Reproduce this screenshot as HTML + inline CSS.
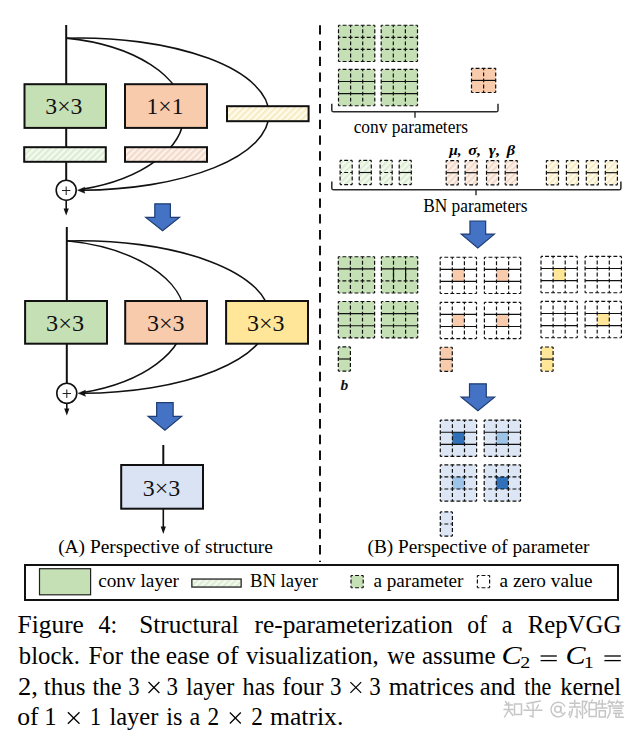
<!DOCTYPE html><html><head><meta charset="utf-8"><style>html,body{margin:0;padding:0;background:#fff;}svg{display:block;}</style></head><body>
<svg width="641" height="736" viewBox="0 0 641 736">
<defs>
<pattern id="hg" patternUnits="userSpaceOnUse" width="4.5" height="4.5" patternTransform="rotate(45)"><rect width="4.5" height="4.5" fill="#f3f9ef"/><rect x="0" y="0" width="2" height="4.5" fill="#dcecd2"/></pattern>
<pattern id="ho" patternUnits="userSpaceOnUse" width="4.5" height="4.5" patternTransform="rotate(45)"><rect width="4.5" height="4.5" fill="#fcf1ea"/><rect x="0" y="0" width="2" height="4.5" fill="#f3d9c8"/></pattern>
<pattern id="hy" patternUnits="userSpaceOnUse" width="4.5" height="4.5" patternTransform="rotate(45)"><rect width="4.5" height="4.5" fill="#fffaea"/><rect x="0" y="0" width="2" height="4.5" fill="#f7ebc4"/></pattern>
</defs>
<line x1="66.2" y1="25" x2="66.2" y2="180" stroke="#111" stroke-width="2" stroke-linecap="butt"/>
<line x1="66.2" y1="200.5" x2="66.2" y2="209" stroke="#111" stroke-width="1.6" stroke-linecap="butt"/>
<path d="M63.6,208.5 L68.8,208.5 L66.2,215.5 Z" fill="#111"/>
<path d="M66.2,38.09 A144,77.2 0 0 1 184,114 A144,78.8 0 0 1 82,189.37" fill="none" stroke="#111" stroke-width="1.6"/>
<path d="M66.2,38.2 A189,76.1 0 0 1 269,114.1 A189,76.1 0 0 1 82,190.2" fill="none" stroke="#111" stroke-width="1.6"/>
<path d="M77.6,190.2 L84.9,187.2 L83.8,190.2 L84.9,193.2 Z" fill="#111" stroke="#111" stroke-width="0.5" stroke-linejoin="round"/>
<rect x="24.5" y="84.2" width="81.5" height="43.7" fill="#c5e0b4" stroke="#111" stroke-width="2"/>
<rect x="125" y="84.2" width="82" height="43.7" fill="#f8cbad" stroke="#111" stroke-width="2"/>
<text transform="translate(46.6,114.1) scale(1.0087,0.9900) translate(-1.250,0)" x="0" y="0" font-family='"Liberation Serif", serif' font-size="23.5" font-weight="normal" font-style="normal" fill="#111">3×3</text>
<text transform="translate(148.6,114.1) scale(1.0015,0.9900) translate(-2.000,0)" x="0" y="0" font-family='"Liberation Serif", serif' font-size="23.5" font-weight="normal" font-style="normal" fill="#111">1×1</text>
<rect x="24.2" y="147.2" width="81.6" height="14.6" fill="url(#hg)" stroke="#111" stroke-width="2"/>
<rect x="125" y="147.2" width="82" height="14.6" fill="url(#ho)" stroke="#111" stroke-width="2"/>
<rect x="227" y="106.2" width="81.6" height="15" fill="url(#hy)" stroke="#111" stroke-width="2"/>
<circle cx="66.2" cy="190.2" r="10" fill="#fff" stroke="#111" stroke-width="1.6"/>
<line x1="62" y1="190.5" x2="70.4" y2="190.5" stroke="#222" stroke-width="1.05" stroke-linecap="butt"/>
<line x1="66.2" y1="186.6" x2="66.2" y2="195" stroke="#222" stroke-width="1.05" stroke-linecap="butt"/>
<polygon points="154.8,203.8 170.4,203.8 170.4,217.4 179.45,217.4 162.6,230.76 145.75,217.4 154.8,217.4" fill="#4472c4" stroke="#1f3c73" stroke-width="1.2" stroke-linejoin="miter"/>
<line x1="66.8" y1="227" x2="66.8" y2="383.2" stroke="#111" stroke-width="2" stroke-linecap="butt"/>
<line x1="66.8" y1="403.5" x2="66.8" y2="409" stroke="#111" stroke-width="1.6" stroke-linecap="butt"/>
<path d="M64.2,408.5 L69.4,408.5 L66.8,415.5 Z" fill="#111"/>
<path d="M66.8,240.78 A144,77.5 0 0 1 184.75,317 A144,79 0 0 1 82.5,392.61" fill="none" stroke="#111" stroke-width="1.6"/>
<path d="M66.8,240.96 A189,76.25 0 0 1 269.75,317 A189,76.25 0 0 1 82.5,393.25" fill="none" stroke="#111" stroke-width="1.6"/>
<path d="M78.2,393.25 L85.5,390.25 L84.4,393.25 L85.5,396.25 Z" fill="#111" stroke="#111" stroke-width="0.5" stroke-linejoin="round"/>
<rect x="25.1" y="301" width="81.9" height="42.7" fill="#c5e0b4" stroke="#111" stroke-width="2"/>
<rect x="125.2" y="301" width="81.8" height="42.7" fill="#f8cbad" stroke="#111" stroke-width="2"/>
<rect x="226.1" y="301" width="81.9" height="42.7" fill="#ffe699" stroke="#111" stroke-width="2"/>
<text transform="translate(47.4,330.9) scale(1.0348,0.9900) translate(-1.250,0)" x="0" y="0" font-family='"Liberation Serif", serif' font-size="23.5" font-weight="normal" font-style="normal" fill="#111">3×3</text>
<text transform="translate(148.4,330.9) scale(1.0203,0.9900) translate(-1.250,0)" x="0" y="0" font-family='"Liberation Serif", serif' font-size="23.5" font-weight="normal" font-style="normal" fill="#111">3×3</text>
<text transform="translate(248.4,330.9) scale(1.0203,0.9900) translate(-1.250,0)" x="0" y="0" font-family='"Liberation Serif", serif' font-size="23.5" font-weight="normal" font-style="normal" fill="#111">3×3</text>
<circle cx="66.8" cy="393.25" r="10" fill="#fff" stroke="#111" stroke-width="1.6"/>
<line x1="62.6" y1="393.5" x2="71" y2="393.5" stroke="#222" stroke-width="1.05" stroke-linecap="butt"/>
<line x1="66.8" y1="389.6" x2="66.8" y2="398" stroke="#222" stroke-width="1.05" stroke-linecap="butt"/>
<polygon points="156.65,402.6 173.15,402.6 173.15,416.4 181.65,416.4 164.9,430.16 148.15,416.4 156.65,416.4" fill="#4472c4" stroke="#1f3c73" stroke-width="1.2" stroke-linejoin="miter"/>
<line x1="163.3" y1="445" x2="163.3" y2="465" stroke="#111" stroke-width="2" stroke-linecap="butt"/>
<rect x="121.2" y="465" width="81.8" height="43.7" fill="#dae3f3" stroke="#111" stroke-width="2"/>
<text transform="translate(144.1,495.5) scale(1.0203,0.9900) translate(-1.250,0)" x="0" y="0" font-family='"Liberation Serif", serif' font-size="23.5" font-weight="normal" font-style="normal" fill="#111">3×3</text>
<line x1="163.3" y1="509" x2="163.3" y2="527" stroke="#111" stroke-width="1.6" stroke-linecap="butt"/>
<path d="M160.7,526.5 L165.9,526.5 L163.3,534 Z" fill="#111"/>
<text transform="translate(58.9,553) scale(1.0049,1.0200) translate(-0.750,0)" x="0" y="0" font-family='"Liberation Serif", serif' font-size="19.3" font-weight="normal" font-style="normal" fill="#000">(A) Perspective of structure</text>
<line x1="320" y1="25.3" x2="320" y2="562" stroke="#111" stroke-width="2" stroke-linecap="butt" stroke-dasharray="9.3 6.452"/>
<rect x="338.5" y="25.2" width="36.3" height="36.3" fill="#c5e0b4"/>
<line x1="338.5" y1="25.2" x2="374.8" y2="25.2" stroke="#111" stroke-width="1.15" stroke-linecap="butt" stroke-dasharray="3.9 2.15" stroke-dashoffset="1.95"/>
<line x1="338.5" y1="37.3" x2="374.8" y2="37.3" stroke="#111" stroke-width="1.15" stroke-linecap="butt" stroke-dasharray="3.9 2.15" stroke-dashoffset="1.95"/>
<line x1="338.5" y1="49.4" x2="374.8" y2="49.4" stroke="#111" stroke-width="1.15" stroke-linecap="butt" stroke-dasharray="3.9 2.15" stroke-dashoffset="1.95"/>
<line x1="338.5" y1="61.5" x2="374.8" y2="61.5" stroke="#111" stroke-width="1.15" stroke-linecap="butt" stroke-dasharray="3.9 2.15" stroke-dashoffset="1.95"/>
<line x1="338.5" y1="25.2" x2="338.5" y2="61.5" stroke="#111" stroke-width="1.2" stroke-linecap="butt" stroke-dasharray="3.9 2.15" stroke-dashoffset="1.95"/>
<line x1="350.6" y1="25.2" x2="350.6" y2="61.5" stroke="#111" stroke-width="1.2" stroke-linecap="butt" stroke-dasharray="3.9 2.15" stroke-dashoffset="1.95"/>
<line x1="362.7" y1="25.2" x2="362.7" y2="61.5" stroke="#111" stroke-width="1.2" stroke-linecap="butt" stroke-dasharray="3.9 2.15" stroke-dashoffset="1.95"/>
<line x1="374.8" y1="25.2" x2="374.8" y2="61.5" stroke="#111" stroke-width="1.2" stroke-linecap="butt" stroke-dasharray="3.9 2.15" stroke-dashoffset="1.95"/>
<rect x="381.2" y="25.2" width="36.3" height="36.3" fill="#c5e0b4"/>
<line x1="381.2" y1="25.2" x2="417.5" y2="25.2" stroke="#111" stroke-width="1.15" stroke-linecap="butt" stroke-dasharray="3.9 2.15" stroke-dashoffset="1.95"/>
<line x1="381.2" y1="37.3" x2="417.5" y2="37.3" stroke="#111" stroke-width="1.15" stroke-linecap="butt" stroke-dasharray="3.9 2.15" stroke-dashoffset="1.95"/>
<line x1="381.2" y1="49.4" x2="417.5" y2="49.4" stroke="#111" stroke-width="1.15" stroke-linecap="butt" stroke-dasharray="3.9 2.15" stroke-dashoffset="1.95"/>
<line x1="381.2" y1="61.5" x2="417.5" y2="61.5" stroke="#111" stroke-width="1.15" stroke-linecap="butt" stroke-dasharray="3.9 2.15" stroke-dashoffset="1.95"/>
<line x1="381.2" y1="25.2" x2="381.2" y2="61.5" stroke="#111" stroke-width="1.2" stroke-linecap="butt" stroke-dasharray="3.9 2.15" stroke-dashoffset="1.95"/>
<line x1="393.3" y1="25.2" x2="393.3" y2="61.5" stroke="#111" stroke-width="1.2" stroke-linecap="butt" stroke-dasharray="3.9 2.15" stroke-dashoffset="1.95"/>
<line x1="405.4" y1="25.2" x2="405.4" y2="61.5" stroke="#111" stroke-width="1.2" stroke-linecap="butt" stroke-dasharray="3.9 2.15" stroke-dashoffset="1.95"/>
<line x1="417.5" y1="25.2" x2="417.5" y2="61.5" stroke="#111" stroke-width="1.2" stroke-linecap="butt" stroke-dasharray="3.9 2.15" stroke-dashoffset="1.95"/>
<rect x="338.5" y="69.4" width="36.3" height="36.3" fill="#c5e0b4"/>
<line x1="338.5" y1="69.4" x2="374.8" y2="69.4" stroke="#111" stroke-width="1.15" stroke-linecap="butt" stroke-dasharray="3.9 2.15" stroke-dashoffset="1.95"/>
<line x1="338.5" y1="81.5" x2="374.8" y2="81.5" stroke="#111" stroke-width="1.15" stroke-linecap="butt"/>
<line x1="338.5" y1="93.6" x2="374.8" y2="93.6" stroke="#111" stroke-width="1.15" stroke-linecap="butt"/>
<line x1="338.5" y1="105.7" x2="374.8" y2="105.7" stroke="#111" stroke-width="1.15" stroke-linecap="butt" stroke-dasharray="3.9 2.15" stroke-dashoffset="1.95"/>
<line x1="338.5" y1="69.4" x2="338.5" y2="105.7" stroke="#111" stroke-width="1.2" stroke-linecap="butt" stroke-dasharray="3.9 2.15" stroke-dashoffset="1.95"/>
<line x1="350.6" y1="69.4" x2="350.6" y2="105.7" stroke="#111" stroke-width="1.2" stroke-linecap="butt" stroke-dasharray="3.9 2.15" stroke-dashoffset="1.95"/>
<line x1="362.7" y1="69.4" x2="362.7" y2="105.7" stroke="#111" stroke-width="1.2" stroke-linecap="butt" stroke-dasharray="3.9 2.15" stroke-dashoffset="1.95"/>
<line x1="374.8" y1="69.4" x2="374.8" y2="105.7" stroke="#111" stroke-width="1.2" stroke-linecap="butt" stroke-dasharray="3.9 2.15" stroke-dashoffset="1.95"/>
<rect x="381.2" y="69.4" width="36.3" height="36.3" fill="#c5e0b4"/>
<line x1="381.2" y1="69.4" x2="417.5" y2="69.4" stroke="#111" stroke-width="1.15" stroke-linecap="butt" stroke-dasharray="3.9 2.15" stroke-dashoffset="1.95"/>
<line x1="381.2" y1="81.5" x2="417.5" y2="81.5" stroke="#111" stroke-width="1.15" stroke-linecap="butt"/>
<line x1="381.2" y1="93.6" x2="417.5" y2="93.6" stroke="#111" stroke-width="1.15" stroke-linecap="butt"/>
<line x1="381.2" y1="105.7" x2="417.5" y2="105.7" stroke="#111" stroke-width="1.15" stroke-linecap="butt" stroke-dasharray="3.9 2.15" stroke-dashoffset="1.95"/>
<line x1="381.2" y1="69.4" x2="381.2" y2="105.7" stroke="#111" stroke-width="1.2" stroke-linecap="butt" stroke-dasharray="3.9 2.15" stroke-dashoffset="1.95"/>
<line x1="393.3" y1="69.4" x2="393.3" y2="105.7" stroke="#111" stroke-width="1.2" stroke-linecap="butt" stroke-dasharray="3.9 2.15" stroke-dashoffset="1.95"/>
<line x1="405.4" y1="69.4" x2="405.4" y2="105.7" stroke="#111" stroke-width="1.2" stroke-linecap="butt" stroke-dasharray="3.9 2.15" stroke-dashoffset="1.95"/>
<line x1="417.5" y1="69.4" x2="417.5" y2="105.7" stroke="#111" stroke-width="1.2" stroke-linecap="butt" stroke-dasharray="3.9 2.15" stroke-dashoffset="1.95"/>
<rect x="471.5" y="68.3" width="24.2" height="24.2" fill="#f8cbad"/>
<line x1="471.5" y1="68.3" x2="495.7" y2="68.3" stroke="#111" stroke-width="1.15" stroke-linecap="butt" stroke-dasharray="3.9 2.15" stroke-dashoffset="1.95"/>
<line x1="471.5" y1="80.4" x2="495.7" y2="80.4" stroke="#111" stroke-width="1.15" stroke-linecap="butt"/>
<line x1="471.5" y1="92.5" x2="495.7" y2="92.5" stroke="#111" stroke-width="1.15" stroke-linecap="butt" stroke-dasharray="3.9 2.15" stroke-dashoffset="1.95"/>
<line x1="471.5" y1="68.3" x2="471.5" y2="92.5" stroke="#111" stroke-width="1.2" stroke-linecap="butt" stroke-dasharray="3.9 2.15" stroke-dashoffset="1.95"/>
<line x1="483.6" y1="68.3" x2="483.6" y2="92.5" stroke="#111" stroke-width="1.2" stroke-linecap="butt" stroke-dasharray="3.9 2.15" stroke-dashoffset="1.95"/>
<line x1="495.7" y1="68.3" x2="495.7" y2="92.5" stroke="#111" stroke-width="1.2" stroke-linecap="butt" stroke-dasharray="3.9 2.15" stroke-dashoffset="1.95"/>
<path d="M331.8,103.8 L331.8,110.2 Q331.8,111.8 333.5,111.8 L496.3,111.8 Q498,111.8 498,110.2 L498,103.8" fill="none" stroke="#2a2a2a" stroke-width="1.5"/>
<line x1="415" y1="111.8" x2="415" y2="117.8" stroke="#2a2a2a" stroke-width="1.4" stroke-linecap="butt"/>
<text transform="translate(354.4,133.4) scale(0.9934,1.0300) translate(-0.750,0)" x="0" y="0" font-family='"Liberation Serif", serif' font-size="17.5" font-weight="normal" font-style="normal" fill="#000">conv parameters</text>
<rect x="340.1" y="160.4" width="12.1" height="24.2" fill="url(#hg)"/>
<line x1="340.1" y1="160.4" x2="352.2" y2="160.4" stroke="#111" stroke-width="1.15" stroke-linecap="butt" stroke-dasharray="3.9 2.15" stroke-dashoffset="1.95"/>
<line x1="340.1" y1="172.5" x2="352.2" y2="172.5" stroke="#111" stroke-width="1.15" stroke-linecap="butt" stroke-dasharray="3.9 2.15" stroke-dashoffset="1.95"/>
<line x1="340.1" y1="184.6" x2="352.2" y2="184.6" stroke="#111" stroke-width="1.15" stroke-linecap="butt" stroke-dasharray="3.9 2.15" stroke-dashoffset="1.95"/>
<line x1="340.1" y1="160.4" x2="340.1" y2="184.6" stroke="#111" stroke-width="1.2" stroke-linecap="butt" stroke-dasharray="3.9 2.15" stroke-dashoffset="1.95"/>
<line x1="352.2" y1="160.4" x2="352.2" y2="184.6" stroke="#111" stroke-width="1.2" stroke-linecap="butt" stroke-dasharray="3.9 2.15" stroke-dashoffset="1.95"/>
<rect x="359.2" y="160.4" width="12.1" height="24.2" fill="url(#hg)"/>
<line x1="359.2" y1="160.4" x2="371.3" y2="160.4" stroke="#111" stroke-width="1.15" stroke-linecap="butt" stroke-dasharray="3.9 2.15" stroke-dashoffset="1.95"/>
<line x1="359.2" y1="172.5" x2="371.3" y2="172.5" stroke="#111" stroke-width="1.15" stroke-linecap="butt"/>
<line x1="359.2" y1="184.6" x2="371.3" y2="184.6" stroke="#111" stroke-width="1.15" stroke-linecap="butt" stroke-dasharray="3.9 2.15" stroke-dashoffset="1.95"/>
<line x1="359.2" y1="160.4" x2="359.2" y2="184.6" stroke="#111" stroke-width="1.2" stroke-linecap="butt" stroke-dasharray="3.9 2.15" stroke-dashoffset="1.95"/>
<line x1="371.3" y1="160.4" x2="371.3" y2="184.6" stroke="#111" stroke-width="1.2" stroke-linecap="butt" stroke-dasharray="3.9 2.15" stroke-dashoffset="1.95"/>
<rect x="380.1" y="160.4" width="12.1" height="24.2" fill="url(#hg)"/>
<line x1="380.1" y1="160.4" x2="392.2" y2="160.4" stroke="#111" stroke-width="1.15" stroke-linecap="butt" stroke-dasharray="3.9 2.15" stroke-dashoffset="1.95"/>
<line x1="380.1" y1="172.5" x2="392.2" y2="172.5" stroke="#111" stroke-width="1.15" stroke-linecap="butt" stroke-dasharray="3.9 2.15" stroke-dashoffset="1.95"/>
<line x1="380.1" y1="184.6" x2="392.2" y2="184.6" stroke="#111" stroke-width="1.15" stroke-linecap="butt" stroke-dasharray="3.9 2.15" stroke-dashoffset="1.95"/>
<line x1="380.1" y1="160.4" x2="380.1" y2="184.6" stroke="#111" stroke-width="1.2" stroke-linecap="butt" stroke-dasharray="3.9 2.15" stroke-dashoffset="1.95"/>
<line x1="392.2" y1="160.4" x2="392.2" y2="184.6" stroke="#111" stroke-width="1.2" stroke-linecap="butt" stroke-dasharray="3.9 2.15" stroke-dashoffset="1.95"/>
<rect x="399.2" y="160.4" width="12.1" height="24.2" fill="url(#hg)"/>
<line x1="399.2" y1="160.4" x2="411.3" y2="160.4" stroke="#111" stroke-width="1.15" stroke-linecap="butt" stroke-dasharray="3.9 2.15" stroke-dashoffset="1.95"/>
<line x1="399.2" y1="172.5" x2="411.3" y2="172.5" stroke="#111" stroke-width="1.15" stroke-linecap="butt"/>
<line x1="399.2" y1="184.6" x2="411.3" y2="184.6" stroke="#111" stroke-width="1.15" stroke-linecap="butt" stroke-dasharray="3.9 2.15" stroke-dashoffset="1.95"/>
<line x1="399.2" y1="160.4" x2="399.2" y2="184.6" stroke="#111" stroke-width="1.2" stroke-linecap="butt" stroke-dasharray="3.9 2.15" stroke-dashoffset="1.95"/>
<line x1="411.3" y1="160.4" x2="411.3" y2="184.6" stroke="#111" stroke-width="1.2" stroke-linecap="butt" stroke-dasharray="3.9 2.15" stroke-dashoffset="1.95"/>
<rect x="446.2" y="160.6" width="12.1" height="24.2" fill="url(#ho)"/>
<line x1="446.2" y1="160.6" x2="458.3" y2="160.6" stroke="#111" stroke-width="1.15" stroke-linecap="butt" stroke-dasharray="3.9 2.15" stroke-dashoffset="1.95"/>
<line x1="446.2" y1="172.7" x2="458.3" y2="172.7" stroke="#111" stroke-width="1.15" stroke-linecap="butt"/>
<line x1="446.2" y1="184.8" x2="458.3" y2="184.8" stroke="#111" stroke-width="1.15" stroke-linecap="butt" stroke-dasharray="3.9 2.15" stroke-dashoffset="1.95"/>
<line x1="446.2" y1="160.6" x2="446.2" y2="184.8" stroke="#111" stroke-width="1.2" stroke-linecap="butt" stroke-dasharray="3.9 2.15" stroke-dashoffset="1.95"/>
<line x1="458.3" y1="160.6" x2="458.3" y2="184.8" stroke="#111" stroke-width="1.2" stroke-linecap="butt" stroke-dasharray="3.9 2.15" stroke-dashoffset="1.95"/>
<rect x="465.1" y="160.6" width="12.1" height="24.2" fill="url(#ho)"/>
<line x1="465.1" y1="160.6" x2="477.2" y2="160.6" stroke="#111" stroke-width="1.15" stroke-linecap="butt" stroke-dasharray="3.9 2.15" stroke-dashoffset="1.95"/>
<line x1="465.1" y1="172.7" x2="477.2" y2="172.7" stroke="#111" stroke-width="1.15" stroke-linecap="butt"/>
<line x1="465.1" y1="184.8" x2="477.2" y2="184.8" stroke="#111" stroke-width="1.15" stroke-linecap="butt" stroke-dasharray="3.9 2.15" stroke-dashoffset="1.95"/>
<line x1="465.1" y1="160.6" x2="465.1" y2="184.8" stroke="#111" stroke-width="1.2" stroke-linecap="butt" stroke-dasharray="3.9 2.15" stroke-dashoffset="1.95"/>
<line x1="477.2" y1="160.6" x2="477.2" y2="184.8" stroke="#111" stroke-width="1.2" stroke-linecap="butt" stroke-dasharray="3.9 2.15" stroke-dashoffset="1.95"/>
<rect x="486.5" y="160.6" width="12.1" height="24.2" fill="url(#ho)"/>
<line x1="486.5" y1="160.6" x2="498.6" y2="160.6" stroke="#111" stroke-width="1.15" stroke-linecap="butt" stroke-dasharray="3.9 2.15" stroke-dashoffset="1.95"/>
<line x1="486.5" y1="172.7" x2="498.6" y2="172.7" stroke="#111" stroke-width="1.15" stroke-linecap="butt"/>
<line x1="486.5" y1="184.8" x2="498.6" y2="184.8" stroke="#111" stroke-width="1.15" stroke-linecap="butt" stroke-dasharray="3.9 2.15" stroke-dashoffset="1.95"/>
<line x1="486.5" y1="160.6" x2="486.5" y2="184.8" stroke="#111" stroke-width="1.2" stroke-linecap="butt" stroke-dasharray="3.9 2.15" stroke-dashoffset="1.95"/>
<line x1="498.6" y1="160.6" x2="498.6" y2="184.8" stroke="#111" stroke-width="1.2" stroke-linecap="butt" stroke-dasharray="3.9 2.15" stroke-dashoffset="1.95"/>
<rect x="505.2" y="160.6" width="12.1" height="24.2" fill="url(#ho)"/>
<line x1="505.2" y1="160.6" x2="517.3" y2="160.6" stroke="#111" stroke-width="1.15" stroke-linecap="butt" stroke-dasharray="3.9 2.15" stroke-dashoffset="1.95"/>
<line x1="505.2" y1="172.7" x2="517.3" y2="172.7" stroke="#111" stroke-width="1.15" stroke-linecap="butt"/>
<line x1="505.2" y1="184.8" x2="517.3" y2="184.8" stroke="#111" stroke-width="1.15" stroke-linecap="butt" stroke-dasharray="3.9 2.15" stroke-dashoffset="1.95"/>
<line x1="505.2" y1="160.6" x2="505.2" y2="184.8" stroke="#111" stroke-width="1.2" stroke-linecap="butt" stroke-dasharray="3.9 2.15" stroke-dashoffset="1.95"/>
<line x1="517.3" y1="160.6" x2="517.3" y2="184.8" stroke="#111" stroke-width="1.2" stroke-linecap="butt" stroke-dasharray="3.9 2.15" stroke-dashoffset="1.95"/>
<rect x="546.4" y="160.6" width="12.1" height="24.2" fill="url(#hy)"/>
<line x1="546.4" y1="160.6" x2="558.5" y2="160.6" stroke="#111" stroke-width="1.15" stroke-linecap="butt" stroke-dasharray="3.9 2.15" stroke-dashoffset="1.95"/>
<line x1="546.4" y1="172.7" x2="558.5" y2="172.7" stroke="#111" stroke-width="1.15" stroke-linecap="butt"/>
<line x1="546.4" y1="184.8" x2="558.5" y2="184.8" stroke="#111" stroke-width="1.15" stroke-linecap="butt" stroke-dasharray="3.9 2.15" stroke-dashoffset="1.95"/>
<line x1="546.4" y1="160.6" x2="546.4" y2="184.8" stroke="#111" stroke-width="1.2" stroke-linecap="butt" stroke-dasharray="3.9 2.15" stroke-dashoffset="1.95"/>
<line x1="558.5" y1="160.6" x2="558.5" y2="184.8" stroke="#111" stroke-width="1.2" stroke-linecap="butt" stroke-dasharray="3.9 2.15" stroke-dashoffset="1.95"/>
<rect x="566.4" y="160.6" width="12.1" height="24.2" fill="url(#hy)"/>
<line x1="566.4" y1="160.6" x2="578.5" y2="160.6" stroke="#111" stroke-width="1.15" stroke-linecap="butt" stroke-dasharray="3.9 2.15" stroke-dashoffset="1.95"/>
<line x1="566.4" y1="172.7" x2="578.5" y2="172.7" stroke="#111" stroke-width="1.15" stroke-linecap="butt"/>
<line x1="566.4" y1="184.8" x2="578.5" y2="184.8" stroke="#111" stroke-width="1.15" stroke-linecap="butt" stroke-dasharray="3.9 2.15" stroke-dashoffset="1.95"/>
<line x1="566.4" y1="160.6" x2="566.4" y2="184.8" stroke="#111" stroke-width="1.2" stroke-linecap="butt" stroke-dasharray="3.9 2.15" stroke-dashoffset="1.95"/>
<line x1="578.5" y1="160.6" x2="578.5" y2="184.8" stroke="#111" stroke-width="1.2" stroke-linecap="butt" stroke-dasharray="3.9 2.15" stroke-dashoffset="1.95"/>
<rect x="586.3" y="160.6" width="12.1" height="24.2" fill="url(#hy)"/>
<line x1="586.3" y1="160.6" x2="598.4" y2="160.6" stroke="#111" stroke-width="1.15" stroke-linecap="butt" stroke-dasharray="3.9 2.15" stroke-dashoffset="1.95"/>
<line x1="586.3" y1="172.7" x2="598.4" y2="172.7" stroke="#111" stroke-width="1.15" stroke-linecap="butt"/>
<line x1="586.3" y1="184.8" x2="598.4" y2="184.8" stroke="#111" stroke-width="1.15" stroke-linecap="butt" stroke-dasharray="3.9 2.15" stroke-dashoffset="1.95"/>
<line x1="586.3" y1="160.6" x2="586.3" y2="184.8" stroke="#111" stroke-width="1.2" stroke-linecap="butt" stroke-dasharray="3.9 2.15" stroke-dashoffset="1.95"/>
<line x1="598.4" y1="160.6" x2="598.4" y2="184.8" stroke="#111" stroke-width="1.2" stroke-linecap="butt" stroke-dasharray="3.9 2.15" stroke-dashoffset="1.95"/>
<rect x="605.3" y="160.6" width="12.1" height="24.2" fill="url(#hy)"/>
<line x1="605.3" y1="160.6" x2="617.4" y2="160.6" stroke="#111" stroke-width="1.15" stroke-linecap="butt" stroke-dasharray="3.9 2.15" stroke-dashoffset="1.95"/>
<line x1="605.3" y1="172.7" x2="617.4" y2="172.7" stroke="#111" stroke-width="1.15" stroke-linecap="butt"/>
<line x1="605.3" y1="184.8" x2="617.4" y2="184.8" stroke="#111" stroke-width="1.15" stroke-linecap="butt" stroke-dasharray="3.9 2.15" stroke-dashoffset="1.95"/>
<line x1="605.3" y1="160.6" x2="605.3" y2="184.8" stroke="#111" stroke-width="1.2" stroke-linecap="butt" stroke-dasharray="3.9 2.15" stroke-dashoffset="1.95"/>
<line x1="617.4" y1="160.6" x2="617.4" y2="184.8" stroke="#111" stroke-width="1.2" stroke-linecap="butt" stroke-dasharray="3.9 2.15" stroke-dashoffset="1.95"/>
<text transform="translate(448.6,155.2) scale(0.9833,1.0000) translate(0.750,0)" x="0" y="0" font-family='"Liberation Serif", serif' font-size="15.5" font-weight="bold" font-style="italic" fill="#000">μ,</text>
<text transform="translate(468.8,155.2) scale(1.0571,1.0000) translate(-0.500,0)" x="0" y="0" font-family='"Liberation Serif", serif' font-size="15.5" font-weight="bold" font-style="italic" fill="#000">σ,</text>
<text transform="translate(489.1,155.2) scale(1.0971,1.0000) translate(-0.250,0)" x="0" y="0" font-family='"Liberation Serif", serif' font-size="15.5" font-weight="bold" font-style="italic" fill="#000">γ,</text>
<text transform="translate(506.3,155.2) scale(1.0545,1.0000) translate(0.500,0)" x="0" y="0" font-family='"Liberation Serif", serif' font-size="15.5" font-weight="bold" font-style="italic" fill="#000">β</text>
<path d="M331.8,181.5 L331.8,188.2 Q331.8,189.8 333.5,189.8 L619.2,189.8 Q620.9,189.8 620.9,188.2 L620.9,181.5" fill="none" stroke="#2a2a2a" stroke-width="1.5"/>
<line x1="476" y1="189.8" x2="476" y2="195.2" stroke="#2a2a2a" stroke-width="1.4" stroke-linecap="butt"/>
<text transform="translate(423.7,211.9) scale(0.9909,1.0200) translate(-0.500,0)" x="0" y="0" font-family='"Liberation Serif", serif' font-size="17.5" font-weight="normal" font-style="normal" fill="#000">BN parameters</text>
<polygon points="469.95,221 485.65,221 485.65,234.1 494.35,234.1 477.8,247.96 461.25,234.1 469.95,234.1" fill="#4472c4" stroke="#1f3c73" stroke-width="1.2" stroke-linejoin="miter"/>
<rect x="338.3" y="256.7" width="36.3" height="36.3" fill="#c5e0b4"/>
<line x1="338.3" y1="256.7" x2="374.6" y2="256.7" stroke="#111" stroke-width="1.15" stroke-linecap="butt" stroke-dasharray="3.9 2.15" stroke-dashoffset="1.95"/>
<line x1="338.3" y1="268.8" x2="374.6" y2="268.8" stroke="#111" stroke-width="1.15" stroke-linecap="butt"/>
<line x1="338.3" y1="280.9" x2="374.6" y2="280.9" stroke="#111" stroke-width="1.15" stroke-linecap="butt" stroke-dasharray="3.9 2.15" stroke-dashoffset="1.95"/>
<line x1="338.3" y1="293" x2="374.6" y2="293" stroke="#111" stroke-width="1.15" stroke-linecap="butt" stroke-dasharray="3.9 2.15" stroke-dashoffset="1.95"/>
<line x1="338.3" y1="256.7" x2="338.3" y2="293" stroke="#111" stroke-width="1.2" stroke-linecap="butt" stroke-dasharray="3.9 2.15" stroke-dashoffset="1.95"/>
<line x1="350.4" y1="256.7" x2="350.4" y2="293" stroke="#111" stroke-width="1.2" stroke-linecap="butt" stroke-dasharray="3.9 2.15" stroke-dashoffset="1.95"/>
<line x1="362.5" y1="256.7" x2="362.5" y2="293" stroke="#111" stroke-width="1.2" stroke-linecap="butt" stroke-dasharray="3.9 2.15" stroke-dashoffset="1.95"/>
<line x1="374.6" y1="256.7" x2="374.6" y2="293" stroke="#111" stroke-width="1.2" stroke-linecap="butt" stroke-dasharray="3.9 2.15" stroke-dashoffset="1.95"/>
<rect x="381.4" y="256.7" width="36.3" height="36.3" fill="#c5e0b4"/>
<line x1="381.4" y1="256.7" x2="417.7" y2="256.7" stroke="#111" stroke-width="1.15" stroke-linecap="butt" stroke-dasharray="3.9 2.15" stroke-dashoffset="1.95"/>
<line x1="381.4" y1="268.8" x2="417.7" y2="268.8" stroke="#111" stroke-width="1.15" stroke-linecap="butt"/>
<line x1="381.4" y1="280.9" x2="417.7" y2="280.9" stroke="#111" stroke-width="1.15" stroke-linecap="butt" stroke-dasharray="3.9 2.15" stroke-dashoffset="1.95"/>
<line x1="381.4" y1="293" x2="417.7" y2="293" stroke="#111" stroke-width="1.15" stroke-linecap="butt" stroke-dasharray="3.9 2.15" stroke-dashoffset="1.95"/>
<line x1="381.4" y1="256.7" x2="381.4" y2="293" stroke="#111" stroke-width="1.2" stroke-linecap="butt" stroke-dasharray="3.9 2.15" stroke-dashoffset="1.95"/>
<line x1="393.5" y1="256.7" x2="393.5" y2="293" stroke="#111" stroke-width="1.2" stroke-linecap="butt" stroke-dasharray="3.9 2.15" stroke-dashoffset="1.95"/>
<line x1="405.6" y1="256.7" x2="405.6" y2="293" stroke="#111" stroke-width="1.2" stroke-linecap="butt" stroke-dasharray="3.9 2.15" stroke-dashoffset="1.95"/>
<line x1="417.7" y1="256.7" x2="417.7" y2="293" stroke="#111" stroke-width="1.2" stroke-linecap="butt" stroke-dasharray="3.9 2.15" stroke-dashoffset="1.95"/>
<line x1="393.5" y1="268.8" x2="393.5" y2="280.9" stroke="#111" stroke-width="1.2" stroke-linecap="butt"/>
<line x1="405.6" y1="268.8" x2="405.6" y2="280.9" stroke="#111" stroke-width="1.2" stroke-linecap="butt"/>
<rect x="338.3" y="301.5" width="36.3" height="36.3" fill="#c5e0b4"/>
<line x1="338.3" y1="301.5" x2="374.6" y2="301.5" stroke="#111" stroke-width="1.15" stroke-linecap="butt" stroke-dasharray="3.9 2.15" stroke-dashoffset="1.95"/>
<line x1="338.3" y1="313.6" x2="374.6" y2="313.6" stroke="#111" stroke-width="1.15" stroke-linecap="butt"/>
<line x1="338.3" y1="325.7" x2="374.6" y2="325.7" stroke="#111" stroke-width="1.15" stroke-linecap="butt"/>
<line x1="338.3" y1="337.8" x2="374.6" y2="337.8" stroke="#111" stroke-width="1.15" stroke-linecap="butt" stroke-dasharray="3.9 2.15" stroke-dashoffset="1.95"/>
<line x1="338.3" y1="301.5" x2="338.3" y2="337.8" stroke="#111" stroke-width="1.2" stroke-linecap="butt" stroke-dasharray="3.9 2.15" stroke-dashoffset="1.95"/>
<line x1="350.4" y1="301.5" x2="350.4" y2="337.8" stroke="#111" stroke-width="1.2" stroke-linecap="butt" stroke-dasharray="3.9 2.15" stroke-dashoffset="1.95"/>
<line x1="362.5" y1="301.5" x2="362.5" y2="337.8" stroke="#111" stroke-width="1.2" stroke-linecap="butt" stroke-dasharray="3.9 2.15" stroke-dashoffset="1.95"/>
<line x1="374.6" y1="301.5" x2="374.6" y2="337.8" stroke="#111" stroke-width="1.2" stroke-linecap="butt" stroke-dasharray="3.9 2.15" stroke-dashoffset="1.95"/>
<rect x="381.4" y="301.5" width="36.3" height="36.3" fill="#c5e0b4"/>
<line x1="381.4" y1="301.5" x2="417.7" y2="301.5" stroke="#111" stroke-width="1.15" stroke-linecap="butt" stroke-dasharray="3.9 2.15" stroke-dashoffset="1.95"/>
<line x1="381.4" y1="313.6" x2="417.7" y2="313.6" stroke="#111" stroke-width="1.15" stroke-linecap="butt"/>
<line x1="381.4" y1="325.7" x2="417.7" y2="325.7" stroke="#111" stroke-width="1.15" stroke-linecap="butt"/>
<line x1="381.4" y1="337.8" x2="417.7" y2="337.8" stroke="#111" stroke-width="1.15" stroke-linecap="butt" stroke-dasharray="3.9 2.15" stroke-dashoffset="1.95"/>
<line x1="381.4" y1="301.5" x2="381.4" y2="337.8" stroke="#111" stroke-width="1.2" stroke-linecap="butt" stroke-dasharray="3.9 2.15" stroke-dashoffset="1.95"/>
<line x1="393.5" y1="301.5" x2="393.5" y2="337.8" stroke="#111" stroke-width="1.2" stroke-linecap="butt" stroke-dasharray="3.9 2.15" stroke-dashoffset="1.95"/>
<line x1="405.6" y1="301.5" x2="405.6" y2="337.8" stroke="#111" stroke-width="1.2" stroke-linecap="butt" stroke-dasharray="3.9 2.15" stroke-dashoffset="1.95"/>
<line x1="417.7" y1="301.5" x2="417.7" y2="337.8" stroke="#111" stroke-width="1.2" stroke-linecap="butt" stroke-dasharray="3.9 2.15" stroke-dashoffset="1.95"/>
<rect x="338.3" y="346.9" width="12.1" height="24.2" fill="#c5e0b4"/>
<line x1="338.3" y1="346.9" x2="350.4" y2="346.9" stroke="#111" stroke-width="1.15" stroke-linecap="butt" stroke-dasharray="3.9 2.15" stroke-dashoffset="1.95"/>
<line x1="338.3" y1="359" x2="350.4" y2="359" stroke="#111" stroke-width="1.15" stroke-linecap="butt"/>
<line x1="338.3" y1="371.1" x2="350.4" y2="371.1" stroke="#111" stroke-width="1.15" stroke-linecap="butt" stroke-dasharray="3.9 2.15" stroke-dashoffset="1.95"/>
<line x1="338.3" y1="346.9" x2="338.3" y2="371.1" stroke="#111" stroke-width="1.2" stroke-linecap="butt" stroke-dasharray="3.9 2.15" stroke-dashoffset="1.95"/>
<line x1="350.4" y1="346.9" x2="350.4" y2="371.1" stroke="#111" stroke-width="1.2" stroke-linecap="butt" stroke-dasharray="3.9 2.15" stroke-dashoffset="1.95"/>
<text x="340.5" y="390" font-family='"Liberation Serif", serif' font-size="15.5" text-anchor="start" font-weight="bold" font-style="italic" fill="#111">b</text>
<rect x="440.2" y="257.2" width="36.3" height="36.3" fill="#fff"/>
<rect x="452.3" y="269.3" width="12.1" height="12.1" fill="#f8cbad"/>
<line x1="440.2" y1="257.2" x2="476.5" y2="257.2" stroke="#111" stroke-width="1.15" stroke-linecap="butt" stroke-dasharray="3.9 2.15" stroke-dashoffset="1.95"/>
<line x1="440.2" y1="269.3" x2="476.5" y2="269.3" stroke="#111" stroke-width="1.15" stroke-linecap="butt"/>
<line x1="440.2" y1="281.4" x2="476.5" y2="281.4" stroke="#111" stroke-width="1.15" stroke-linecap="butt"/>
<line x1="440.2" y1="293.5" x2="476.5" y2="293.5" stroke="#111" stroke-width="1.15" stroke-linecap="butt" stroke-dasharray="3.9 2.15" stroke-dashoffset="1.95"/>
<line x1="440.2" y1="257.2" x2="440.2" y2="293.5" stroke="#111" stroke-width="1.2" stroke-linecap="butt" stroke-dasharray="3.9 2.15" stroke-dashoffset="1.95"/>
<line x1="452.3" y1="257.2" x2="452.3" y2="293.5" stroke="#111" stroke-width="1.2" stroke-linecap="butt" stroke-dasharray="3.9 2.15" stroke-dashoffset="1.95"/>
<line x1="464.4" y1="257.2" x2="464.4" y2="293.5" stroke="#111" stroke-width="1.2" stroke-linecap="butt" stroke-dasharray="3.9 2.15" stroke-dashoffset="1.95"/>
<line x1="476.5" y1="257.2" x2="476.5" y2="293.5" stroke="#111" stroke-width="1.2" stroke-linecap="butt" stroke-dasharray="3.9 2.15" stroke-dashoffset="1.95"/>
<rect x="440.2" y="302.3" width="36.3" height="36.3" fill="#fff"/>
<rect x="452.3" y="314.4" width="12.1" height="12.1" fill="#f8cbad"/>
<line x1="440.2" y1="302.3" x2="476.5" y2="302.3" stroke="#111" stroke-width="1.15" stroke-linecap="butt" stroke-dasharray="3.9 2.15" stroke-dashoffset="1.95"/>
<line x1="440.2" y1="314.4" x2="476.5" y2="314.4" stroke="#111" stroke-width="1.15" stroke-linecap="butt"/>
<line x1="440.2" y1="326.5" x2="476.5" y2="326.5" stroke="#111" stroke-width="1.15" stroke-linecap="butt"/>
<line x1="440.2" y1="338.6" x2="476.5" y2="338.6" stroke="#111" stroke-width="1.15" stroke-linecap="butt" stroke-dasharray="3.9 2.15" stroke-dashoffset="1.95"/>
<line x1="440.2" y1="302.3" x2="440.2" y2="338.6" stroke="#111" stroke-width="1.2" stroke-linecap="butt" stroke-dasharray="3.9 2.15" stroke-dashoffset="1.95"/>
<line x1="452.3" y1="302.3" x2="452.3" y2="338.6" stroke="#111" stroke-width="1.2" stroke-linecap="butt" stroke-dasharray="3.9 2.15" stroke-dashoffset="1.95"/>
<line x1="464.4" y1="302.3" x2="464.4" y2="338.6" stroke="#111" stroke-width="1.2" stroke-linecap="butt" stroke-dasharray="3.9 2.15" stroke-dashoffset="1.95"/>
<line x1="476.5" y1="302.3" x2="476.5" y2="338.6" stroke="#111" stroke-width="1.2" stroke-linecap="butt" stroke-dasharray="3.9 2.15" stroke-dashoffset="1.95"/>
<rect x="484.4" y="257.2" width="36.3" height="36.3" fill="#fff"/>
<rect x="496.5" y="269.3" width="12.1" height="12.1" fill="#f8cbad"/>
<line x1="484.4" y1="257.2" x2="520.7" y2="257.2" stroke="#111" stroke-width="1.15" stroke-linecap="butt" stroke-dasharray="3.9 2.15" stroke-dashoffset="1.95"/>
<line x1="484.4" y1="269.3" x2="520.7" y2="269.3" stroke="#111" stroke-width="1.15" stroke-linecap="butt"/>
<line x1="484.4" y1="281.4" x2="520.7" y2="281.4" stroke="#111" stroke-width="1.15" stroke-linecap="butt"/>
<line x1="484.4" y1="293.5" x2="520.7" y2="293.5" stroke="#111" stroke-width="1.15" stroke-linecap="butt" stroke-dasharray="3.9 2.15" stroke-dashoffset="1.95"/>
<line x1="484.4" y1="257.2" x2="484.4" y2="293.5" stroke="#111" stroke-width="1.2" stroke-linecap="butt" stroke-dasharray="3.9 2.15" stroke-dashoffset="1.95"/>
<line x1="496.5" y1="257.2" x2="496.5" y2="293.5" stroke="#111" stroke-width="1.2" stroke-linecap="butt" stroke-dasharray="3.9 2.15" stroke-dashoffset="1.95"/>
<line x1="508.6" y1="257.2" x2="508.6" y2="293.5" stroke="#111" stroke-width="1.2" stroke-linecap="butt" stroke-dasharray="3.9 2.15" stroke-dashoffset="1.95"/>
<line x1="520.7" y1="257.2" x2="520.7" y2="293.5" stroke="#111" stroke-width="1.2" stroke-linecap="butt" stroke-dasharray="3.9 2.15" stroke-dashoffset="1.95"/>
<rect x="484.4" y="302.3" width="36.3" height="36.3" fill="#fff"/>
<rect x="496.5" y="314.4" width="12.1" height="12.1" fill="#f8cbad"/>
<line x1="484.4" y1="302.3" x2="520.7" y2="302.3" stroke="#111" stroke-width="1.15" stroke-linecap="butt" stroke-dasharray="3.9 2.15" stroke-dashoffset="1.95"/>
<line x1="484.4" y1="314.4" x2="520.7" y2="314.4" stroke="#111" stroke-width="1.15" stroke-linecap="butt"/>
<line x1="484.4" y1="326.5" x2="520.7" y2="326.5" stroke="#111" stroke-width="1.15" stroke-linecap="butt"/>
<line x1="484.4" y1="338.6" x2="520.7" y2="338.6" stroke="#111" stroke-width="1.15" stroke-linecap="butt" stroke-dasharray="3.9 2.15" stroke-dashoffset="1.95"/>
<line x1="484.4" y1="302.3" x2="484.4" y2="338.6" stroke="#111" stroke-width="1.2" stroke-linecap="butt" stroke-dasharray="3.9 2.15" stroke-dashoffset="1.95"/>
<line x1="496.5" y1="302.3" x2="496.5" y2="338.6" stroke="#111" stroke-width="1.2" stroke-linecap="butt" stroke-dasharray="3.9 2.15" stroke-dashoffset="1.95"/>
<line x1="508.6" y1="302.3" x2="508.6" y2="338.6" stroke="#111" stroke-width="1.2" stroke-linecap="butt" stroke-dasharray="3.9 2.15" stroke-dashoffset="1.95"/>
<line x1="520.7" y1="302.3" x2="520.7" y2="338.6" stroke="#111" stroke-width="1.2" stroke-linecap="butt" stroke-dasharray="3.9 2.15" stroke-dashoffset="1.95"/>
<rect x="440.2" y="347.2" width="12.1" height="24.2" fill="#f8cbad"/>
<line x1="440.2" y1="347.2" x2="452.3" y2="347.2" stroke="#111" stroke-width="1.15" stroke-linecap="butt" stroke-dasharray="3.9 2.15" stroke-dashoffset="1.95"/>
<line x1="440.2" y1="359.3" x2="452.3" y2="359.3" stroke="#111" stroke-width="1.15" stroke-linecap="butt"/>
<line x1="440.2" y1="371.4" x2="452.3" y2="371.4" stroke="#111" stroke-width="1.15" stroke-linecap="butt" stroke-dasharray="3.9 2.15" stroke-dashoffset="1.95"/>
<line x1="440.2" y1="347.2" x2="440.2" y2="371.4" stroke="#111" stroke-width="1.2" stroke-linecap="butt" stroke-dasharray="3.9 2.15" stroke-dashoffset="1.95"/>
<line x1="452.3" y1="347.2" x2="452.3" y2="371.4" stroke="#111" stroke-width="1.2" stroke-linecap="butt" stroke-dasharray="3.9 2.15" stroke-dashoffset="1.95"/>
<rect x="541" y="256.4" width="36.3" height="36.3" fill="#fff"/>
<rect x="553.1" y="268.5" width="12.1" height="12.1" fill="#ffe699"/>
<line x1="541" y1="256.4" x2="577.3" y2="256.4" stroke="#111" stroke-width="1.15" stroke-linecap="butt" stroke-dasharray="3.9 2.15" stroke-dashoffset="1.95"/>
<line x1="541" y1="268.5" x2="577.3" y2="268.5" stroke="#111" stroke-width="1.15" stroke-linecap="butt"/>
<line x1="541" y1="280.6" x2="577.3" y2="280.6" stroke="#111" stroke-width="1.15" stroke-linecap="butt"/>
<line x1="541" y1="292.7" x2="577.3" y2="292.7" stroke="#111" stroke-width="1.15" stroke-linecap="butt" stroke-dasharray="3.9 2.15" stroke-dashoffset="1.95"/>
<line x1="541" y1="256.4" x2="541" y2="292.7" stroke="#111" stroke-width="1.2" stroke-linecap="butt" stroke-dasharray="3.9 2.15" stroke-dashoffset="1.95"/>
<line x1="553.1" y1="256.4" x2="553.1" y2="292.7" stroke="#111" stroke-width="1.2" stroke-linecap="butt" stroke-dasharray="3.9 2.15" stroke-dashoffset="1.95"/>
<line x1="565.2" y1="256.4" x2="565.2" y2="292.7" stroke="#111" stroke-width="1.2" stroke-linecap="butt" stroke-dasharray="3.9 2.15" stroke-dashoffset="1.95"/>
<line x1="577.3" y1="256.4" x2="577.3" y2="292.7" stroke="#111" stroke-width="1.2" stroke-linecap="butt" stroke-dasharray="3.9 2.15" stroke-dashoffset="1.95"/>
<rect x="585.1" y="256.4" width="36.3" height="36.3" fill="#fff"/>
<line x1="585.1" y1="256.4" x2="621.4" y2="256.4" stroke="#111" stroke-width="1.15" stroke-linecap="butt" stroke-dasharray="3.9 2.15" stroke-dashoffset="1.95"/>
<line x1="585.1" y1="268.5" x2="621.4" y2="268.5" stroke="#111" stroke-width="1.15" stroke-linecap="butt"/>
<line x1="585.1" y1="280.6" x2="621.4" y2="280.6" stroke="#111" stroke-width="1.15" stroke-linecap="butt"/>
<line x1="585.1" y1="292.7" x2="621.4" y2="292.7" stroke="#111" stroke-width="1.15" stroke-linecap="butt" stroke-dasharray="3.9 2.15" stroke-dashoffset="1.95"/>
<line x1="585.1" y1="256.4" x2="585.1" y2="292.7" stroke="#111" stroke-width="1.2" stroke-linecap="butt" stroke-dasharray="3.9 2.15" stroke-dashoffset="1.95"/>
<line x1="597.2" y1="256.4" x2="597.2" y2="292.7" stroke="#111" stroke-width="1.2" stroke-linecap="butt" stroke-dasharray="3.9 2.15" stroke-dashoffset="1.95"/>
<line x1="609.3" y1="256.4" x2="609.3" y2="292.7" stroke="#111" stroke-width="1.2" stroke-linecap="butt" stroke-dasharray="3.9 2.15" stroke-dashoffset="1.95"/>
<line x1="621.4" y1="256.4" x2="621.4" y2="292.7" stroke="#111" stroke-width="1.2" stroke-linecap="butt" stroke-dasharray="3.9 2.15" stroke-dashoffset="1.95"/>
<rect x="541" y="301.4" width="36.3" height="36.3" fill="#fff"/>
<line x1="541" y1="301.4" x2="577.3" y2="301.4" stroke="#111" stroke-width="1.15" stroke-linecap="butt" stroke-dasharray="3.9 2.15" stroke-dashoffset="1.95"/>
<line x1="541" y1="313.5" x2="577.3" y2="313.5" stroke="#111" stroke-width="1.15" stroke-linecap="butt"/>
<line x1="541" y1="325.6" x2="577.3" y2="325.6" stroke="#111" stroke-width="1.15" stroke-linecap="butt"/>
<line x1="541" y1="337.7" x2="577.3" y2="337.7" stroke="#111" stroke-width="1.15" stroke-linecap="butt" stroke-dasharray="3.9 2.15" stroke-dashoffset="1.95"/>
<line x1="541" y1="301.4" x2="541" y2="337.7" stroke="#111" stroke-width="1.2" stroke-linecap="butt" stroke-dasharray="3.9 2.15" stroke-dashoffset="1.95"/>
<line x1="553.1" y1="301.4" x2="553.1" y2="337.7" stroke="#111" stroke-width="1.2" stroke-linecap="butt" stroke-dasharray="3.9 2.15" stroke-dashoffset="1.95"/>
<line x1="565.2" y1="301.4" x2="565.2" y2="337.7" stroke="#111" stroke-width="1.2" stroke-linecap="butt" stroke-dasharray="3.9 2.15" stroke-dashoffset="1.95"/>
<line x1="577.3" y1="301.4" x2="577.3" y2="337.7" stroke="#111" stroke-width="1.2" stroke-linecap="butt" stroke-dasharray="3.9 2.15" stroke-dashoffset="1.95"/>
<rect x="585.1" y="301.4" width="36.3" height="36.3" fill="#fff"/>
<rect x="597.2" y="313.5" width="12.1" height="12.1" fill="#ffe699"/>
<line x1="585.1" y1="301.4" x2="621.4" y2="301.4" stroke="#111" stroke-width="1.15" stroke-linecap="butt" stroke-dasharray="3.9 2.15" stroke-dashoffset="1.95"/>
<line x1="585.1" y1="313.5" x2="621.4" y2="313.5" stroke="#111" stroke-width="1.15" stroke-linecap="butt"/>
<line x1="585.1" y1="325.6" x2="621.4" y2="325.6" stroke="#111" stroke-width="1.15" stroke-linecap="butt"/>
<line x1="585.1" y1="337.7" x2="621.4" y2="337.7" stroke="#111" stroke-width="1.15" stroke-linecap="butt" stroke-dasharray="3.9 2.15" stroke-dashoffset="1.95"/>
<line x1="585.1" y1="301.4" x2="585.1" y2="337.7" stroke="#111" stroke-width="1.2" stroke-linecap="butt" stroke-dasharray="3.9 2.15" stroke-dashoffset="1.95"/>
<line x1="597.2" y1="301.4" x2="597.2" y2="337.7" stroke="#111" stroke-width="1.2" stroke-linecap="butt" stroke-dasharray="3.9 2.15" stroke-dashoffset="1.95"/>
<line x1="609.3" y1="301.4" x2="609.3" y2="337.7" stroke="#111" stroke-width="1.2" stroke-linecap="butt" stroke-dasharray="3.9 2.15" stroke-dashoffset="1.95"/>
<line x1="621.4" y1="301.4" x2="621.4" y2="337.7" stroke="#111" stroke-width="1.2" stroke-linecap="butt" stroke-dasharray="3.9 2.15" stroke-dashoffset="1.95"/>
<rect x="541" y="347" width="12.1" height="24.2" fill="#ffe699"/>
<line x1="541" y1="347" x2="553.1" y2="347" stroke="#111" stroke-width="1.15" stroke-linecap="butt" stroke-dasharray="3.9 2.15" stroke-dashoffset="1.95"/>
<line x1="541" y1="359.1" x2="553.1" y2="359.1" stroke="#111" stroke-width="1.15" stroke-linecap="butt"/>
<line x1="541" y1="371.2" x2="553.1" y2="371.2" stroke="#111" stroke-width="1.15" stroke-linecap="butt" stroke-dasharray="3.9 2.15" stroke-dashoffset="1.95"/>
<line x1="541" y1="347" x2="541" y2="371.2" stroke="#111" stroke-width="1.2" stroke-linecap="butt" stroke-dasharray="3.9 2.15" stroke-dashoffset="1.95"/>
<line x1="553.1" y1="347" x2="553.1" y2="371.2" stroke="#111" stroke-width="1.2" stroke-linecap="butt" stroke-dasharray="3.9 2.15" stroke-dashoffset="1.95"/>
<polygon points="469.5,383.8 486.3,383.8 486.3,397.2 494.6,397.2 477.9,410.66 461.2,397.2 469.5,397.2" fill="#4472c4" stroke="#1f3c73" stroke-width="1.2" stroke-linejoin="miter"/>
<rect x="440.3" y="420.1" width="36.3" height="36.3" fill="#dde6f4"/>
<rect x="452.4" y="432.2" width="12.1" height="12.1" fill="#2f70b8"/>
<line x1="440.3" y1="420.1" x2="476.6" y2="420.1" stroke="#111" stroke-width="1.15" stroke-linecap="butt" stroke-dasharray="3.9 2.15" stroke-dashoffset="1.95"/>
<line x1="440.3" y1="432.2" x2="476.6" y2="432.2" stroke="#111" stroke-width="1.15" stroke-linecap="butt"/>
<line x1="440.3" y1="444.3" x2="476.6" y2="444.3" stroke="#111" stroke-width="1.15" stroke-linecap="butt"/>
<line x1="440.3" y1="456.4" x2="476.6" y2="456.4" stroke="#111" stroke-width="1.15" stroke-linecap="butt" stroke-dasharray="3.9 2.15" stroke-dashoffset="1.95"/>
<line x1="440.3" y1="420.1" x2="440.3" y2="456.4" stroke="#111" stroke-width="1.2" stroke-linecap="butt" stroke-dasharray="3.9 2.15" stroke-dashoffset="1.95"/>
<line x1="452.4" y1="420.1" x2="452.4" y2="456.4" stroke="#111" stroke-width="1.2" stroke-linecap="butt" stroke-dasharray="3.9 2.15" stroke-dashoffset="1.95"/>
<line x1="464.5" y1="420.1" x2="464.5" y2="456.4" stroke="#111" stroke-width="1.2" stroke-linecap="butt" stroke-dasharray="3.9 2.15" stroke-dashoffset="1.95"/>
<line x1="476.6" y1="420.1" x2="476.6" y2="456.4" stroke="#111" stroke-width="1.2" stroke-linecap="butt" stroke-dasharray="3.9 2.15" stroke-dashoffset="1.95"/>
<rect x="484.2" y="420.1" width="36.3" height="36.3" fill="#dde6f4"/>
<rect x="496.3" y="432.2" width="12.1" height="12.1" fill="#9dc3e6"/>
<line x1="484.2" y1="420.1" x2="520.5" y2="420.1" stroke="#111" stroke-width="1.15" stroke-linecap="butt" stroke-dasharray="3.9 2.15" stroke-dashoffset="1.95"/>
<line x1="484.2" y1="432.2" x2="520.5" y2="432.2" stroke="#111" stroke-width="1.15" stroke-linecap="butt"/>
<line x1="484.2" y1="444.3" x2="520.5" y2="444.3" stroke="#111" stroke-width="1.15" stroke-linecap="butt"/>
<line x1="484.2" y1="456.4" x2="520.5" y2="456.4" stroke="#111" stroke-width="1.15" stroke-linecap="butt" stroke-dasharray="3.9 2.15" stroke-dashoffset="1.95"/>
<line x1="484.2" y1="420.1" x2="484.2" y2="456.4" stroke="#111" stroke-width="1.2" stroke-linecap="butt" stroke-dasharray="3.9 2.15" stroke-dashoffset="1.95"/>
<line x1="496.3" y1="420.1" x2="496.3" y2="456.4" stroke="#111" stroke-width="1.2" stroke-linecap="butt" stroke-dasharray="3.9 2.15" stroke-dashoffset="1.95"/>
<line x1="508.4" y1="420.1" x2="508.4" y2="456.4" stroke="#111" stroke-width="1.2" stroke-linecap="butt" stroke-dasharray="3.9 2.15" stroke-dashoffset="1.95"/>
<line x1="520.5" y1="420.1" x2="520.5" y2="456.4" stroke="#111" stroke-width="1.2" stroke-linecap="butt" stroke-dasharray="3.9 2.15" stroke-dashoffset="1.95"/>
<rect x="440.3" y="464.8" width="36.3" height="36.3" fill="#dde6f4"/>
<rect x="452.4" y="476.9" width="12.1" height="12.1" fill="#9dc3e6"/>
<line x1="440.3" y1="464.8" x2="476.6" y2="464.8" stroke="#111" stroke-width="1.15" stroke-linecap="butt" stroke-dasharray="3.9 2.15" stroke-dashoffset="1.95"/>
<line x1="440.3" y1="476.9" x2="476.6" y2="476.9" stroke="#111" stroke-width="1.15" stroke-linecap="butt" stroke-dasharray="3.9 2.15" stroke-dashoffset="1.95"/>
<line x1="440.3" y1="489" x2="476.6" y2="489" stroke="#111" stroke-width="1.15" stroke-linecap="butt" stroke-dasharray="3.9 2.15" stroke-dashoffset="1.95"/>
<line x1="440.3" y1="501.1" x2="476.6" y2="501.1" stroke="#111" stroke-width="1.15" stroke-linecap="butt" stroke-dasharray="3.9 2.15" stroke-dashoffset="1.95"/>
<line x1="440.3" y1="464.8" x2="440.3" y2="501.1" stroke="#111" stroke-width="1.2" stroke-linecap="butt" stroke-dasharray="3.9 2.15" stroke-dashoffset="1.95"/>
<line x1="452.4" y1="464.8" x2="452.4" y2="501.1" stroke="#111" stroke-width="1.2" stroke-linecap="butt" stroke-dasharray="3.9 2.15" stroke-dashoffset="1.95"/>
<line x1="464.5" y1="464.8" x2="464.5" y2="501.1" stroke="#111" stroke-width="1.2" stroke-linecap="butt" stroke-dasharray="3.9 2.15" stroke-dashoffset="1.95"/>
<line x1="476.6" y1="464.8" x2="476.6" y2="501.1" stroke="#111" stroke-width="1.2" stroke-linecap="butt" stroke-dasharray="3.9 2.15" stroke-dashoffset="1.95"/>
<rect x="484.2" y="464.8" width="36.3" height="36.3" fill="#dde6f4"/>
<rect x="496.3" y="476.9" width="12.1" height="12.1" fill="#2f70b8"/>
<line x1="484.2" y1="464.8" x2="520.5" y2="464.8" stroke="#111" stroke-width="1.15" stroke-linecap="butt" stroke-dasharray="3.9 2.15" stroke-dashoffset="1.95"/>
<line x1="484.2" y1="476.9" x2="520.5" y2="476.9" stroke="#111" stroke-width="1.15" stroke-linecap="butt" stroke-dasharray="3.9 2.15" stroke-dashoffset="1.95"/>
<line x1="484.2" y1="489" x2="520.5" y2="489" stroke="#111" stroke-width="1.15" stroke-linecap="butt" stroke-dasharray="3.9 2.15" stroke-dashoffset="1.95"/>
<line x1="484.2" y1="501.1" x2="520.5" y2="501.1" stroke="#111" stroke-width="1.15" stroke-linecap="butt" stroke-dasharray="3.9 2.15" stroke-dashoffset="1.95"/>
<line x1="484.2" y1="464.8" x2="484.2" y2="501.1" stroke="#111" stroke-width="1.2" stroke-linecap="butt" stroke-dasharray="3.9 2.15" stroke-dashoffset="1.95"/>
<line x1="496.3" y1="464.8" x2="496.3" y2="501.1" stroke="#111" stroke-width="1.2" stroke-linecap="butt" stroke-dasharray="3.9 2.15" stroke-dashoffset="1.95"/>
<line x1="508.4" y1="464.8" x2="508.4" y2="501.1" stroke="#111" stroke-width="1.2" stroke-linecap="butt" stroke-dasharray="3.9 2.15" stroke-dashoffset="1.95"/>
<line x1="520.5" y1="464.8" x2="520.5" y2="501.1" stroke="#111" stroke-width="1.2" stroke-linecap="butt" stroke-dasharray="3.9 2.15" stroke-dashoffset="1.95"/>
<rect x="440.3" y="511.9" width="12.1" height="24.2" fill="#dde6f4"/>
<line x1="440.3" y1="511.9" x2="452.4" y2="511.9" stroke="#111" stroke-width="1.15" stroke-linecap="butt" stroke-dasharray="3.9 2.15" stroke-dashoffset="1.95"/>
<line x1="440.3" y1="524" x2="452.4" y2="524" stroke="#111" stroke-width="1.15" stroke-linecap="butt" stroke-dasharray="3.9 2.15" stroke-dashoffset="1.95"/>
<line x1="440.3" y1="536.1" x2="452.4" y2="536.1" stroke="#111" stroke-width="1.15" stroke-linecap="butt" stroke-dasharray="3.9 2.15" stroke-dashoffset="1.95"/>
<line x1="440.3" y1="511.9" x2="440.3" y2="536.1" stroke="#111" stroke-width="1.2" stroke-linecap="butt" stroke-dasharray="3.9 2.15" stroke-dashoffset="1.95"/>
<line x1="452.4" y1="511.9" x2="452.4" y2="536.1" stroke="#111" stroke-width="1.2" stroke-linecap="butt" stroke-dasharray="3.9 2.15" stroke-dashoffset="1.95"/>
<text transform="translate(368.3,553) scale(0.9980,1.0200) translate(-0.750,0)" x="0" y="0" font-family='"Liberation Serif", serif' font-size="19.3" font-weight="normal" font-style="normal" fill="#000">(B) Perspective of parameter</text>
<rect x="25" y="565" width="593" height="35" fill="#fff" stroke="#111" stroke-width="2"/>
<rect x="39.5" y="568.7" width="51.1" height="26.1" fill="#c5e0b4" stroke="#222" stroke-width="1.2"/>
<text transform="translate(98.9,586.7) scale(1.0000,1.0200) translate(-0.750,0)" x="0" y="0" font-family='"Liberation Serif", serif' font-size="19.3" font-weight="normal" font-style="normal" fill="#000">conv layer</text>
<rect x="191.85" y="579.05" width="49.3" height="8" fill="url(#hg)" stroke="#222" stroke-width="1.3"/>
<text transform="translate(250.4,586.7) scale(0.9683,1.0200) translate(-0.500,0)" x="0" y="0" font-family='"Liberation Serif", serif' font-size="19.3" font-weight="normal" font-style="normal" fill="#000">BN layer</text>
<rect x="351" y="575.5" width="12.2" height="12.2" fill="#c5e0b4"/>
<line x1="351" y1="575.5" x2="363.2" y2="575.5" stroke="#111" stroke-width="1.15" stroke-linecap="butt" stroke-dasharray="3.9 2.15" stroke-dashoffset="1.95"/>
<line x1="351" y1="587.7" x2="363.2" y2="587.7" stroke="#111" stroke-width="1.15" stroke-linecap="butt" stroke-dasharray="3.9 2.15" stroke-dashoffset="1.95"/>
<line x1="351" y1="575.5" x2="351" y2="587.7" stroke="#111" stroke-width="1.2" stroke-linecap="butt" stroke-dasharray="3.9 2.15" stroke-dashoffset="1.95"/>
<line x1="363.2" y1="575.5" x2="363.2" y2="587.7" stroke="#111" stroke-width="1.2" stroke-linecap="butt" stroke-dasharray="3.9 2.15" stroke-dashoffset="1.95"/>
<text transform="translate(374.2,586.7) scale(0.9933,1.0200) translate(-0.750,0)" x="0" y="0" font-family='"Liberation Serif", serif' font-size="19.3" font-weight="normal" font-style="normal" fill="#000">a parameter</text>
<line x1="477.4" y1="575.5" x2="489.6" y2="575.5" stroke="#111" stroke-width="1.15" stroke-linecap="butt" stroke-dasharray="3.9 2.15" stroke-dashoffset="1.95"/>
<line x1="477.4" y1="587.7" x2="489.6" y2="587.7" stroke="#111" stroke-width="1.15" stroke-linecap="butt" stroke-dasharray="3.9 2.15" stroke-dashoffset="1.95"/>
<line x1="477.4" y1="575.5" x2="477.4" y2="587.7" stroke="#111" stroke-width="1.2" stroke-linecap="butt" stroke-dasharray="3.9 2.15" stroke-dashoffset="1.95"/>
<line x1="489.6" y1="575.5" x2="489.6" y2="587.7" stroke="#111" stroke-width="1.2" stroke-linecap="butt" stroke-dasharray="3.9 2.15" stroke-dashoffset="1.95"/>
<text transform="translate(500.3,586.7) scale(0.9973,1.0200) translate(-0.750,0)" x="0" y="0" font-family='"Liberation Serif", serif' font-size="19.3" font-weight="normal" font-style="normal" fill="#000">a zero value</text>
<text transform="translate(18.3,633.3) scale(1.0165,1.0100) translate(-0.750,0)" x="0" y="0" font-family='"Liberation Serif", serif' font-size="25" font-weight="normal" font-style="normal" fill="#000">Figure</text>
<text transform="translate(99,633.3) scale(0.9588,1.0100) translate(-0.500,0)" x="0" y="0" font-family='"Liberation Serif", serif' font-size="25" font-weight="normal" font-style="normal" fill="#000">4:</text>
<text transform="translate(141.1,633.3) scale(1.0078,1.0100) translate(-1.750,0)" x="0" y="0" font-family='"Liberation Serif", serif' font-size="25" font-weight="normal" font-style="normal" fill="#000">Structural</text>
<text transform="translate(255,633.3) scale(1.0151,1.0100) translate(-0.500,0)" x="0" y="0" font-family='"Liberation Serif", serif' font-size="25" font-weight="normal" font-style="normal" fill="#000">re-parameterization</text>
<text transform="translate(468.3,633.3) scale(0.9468,1.0100) translate(-1.000,0)" x="0" y="0" font-family='"Liberation Serif", serif' font-size="25" font-weight="normal" font-style="normal" fill="#000">of</text>
<text transform="translate(502.7,633.3) scale(0.9538,1.0100) translate(-1.000,0)" x="0" y="0" font-family='"Liberation Serif", serif' font-size="25" font-weight="normal" font-style="normal" fill="#000">a</text>
<text transform="translate(528.4,633.3) scale(0.9925,1.0100) translate(-0.750,0)" x="0" y="0" font-family='"Liberation Serif", serif' font-size="25" font-weight="normal" font-style="normal" fill="#000">RepVGG</text>
<text transform="translate(18.8,664.4) scale(0.9892,1.0100) translate(-0.000,0)" x="0" y="0" font-family='"Liberation Serif", serif' font-size="25" font-weight="normal" font-style="normal" fill="#000">block.</text>
<text transform="translate(89.3,664.4) scale(0.9926,1.0100) translate(-0.750,0)" x="0" y="0" font-family='"Liberation Serif", serif' font-size="25" font-weight="normal" font-style="normal" fill="#000">For</text>
<text transform="translate(130.4,664.4) scale(0.9831,1.0100) translate(-0.250,0)" x="0" y="0" font-family='"Liberation Serif", serif' font-size="25" font-weight="normal" font-style="normal" fill="#000">the</text>
<text transform="translate(166.8,664.4) scale(1.0206,1.0100) translate(-1.000,0)" x="0" y="0" font-family='"Liberation Serif", serif' font-size="25" font-weight="normal" font-style="normal" fill="#000">ease</text>
<text transform="translate(217.5,664.4) scale(1.0633,1.0100) translate(-1.000,0)" x="0" y="0" font-family='"Liberation Serif", serif' font-size="25" font-weight="normal" font-style="normal" fill="#000">of</text>
<text transform="translate(245.9,664.4) scale(0.9909,1.0100) translate(-0.000,0)" x="0" y="0" font-family='"Liberation Serif", serif' font-size="25" font-weight="normal" font-style="normal" fill="#000">visualization,</text>
<text transform="translate(387.3,664.4) scale(0.9558,1.0100) translate(-0.000,0)" x="0" y="0" font-family='"Liberation Serif", serif' font-size="25" font-weight="normal" font-style="normal" fill="#000">we</text>
<text transform="translate(422.9,664.4) scale(1.0021,1.0100) translate(-1.000,0)" x="0" y="0" font-family='"Liberation Serif", serif' font-size="25" font-weight="normal" font-style="normal" fill="#000">assume</text>
<text transform="translate(19.1,694.6) scale(1.0585,1.0100) translate(-1.000,0)" x="0" y="0" font-family='"Liberation Serif", serif' font-size="25" font-weight="normal" font-style="normal" fill="#000">2,</text>
<text transform="translate(44.1,694.6) scale(1.0000,1.0100) translate(-0.250,0)" x="0" y="0" font-family='"Liberation Serif", serif' font-size="25" font-weight="normal" font-style="normal" fill="#000">thus</text>
<text transform="translate(92.7,694.6) scale(0.9525,1.0100) translate(-0.250,0)" x="0" y="0" font-family='"Liberation Serif", serif' font-size="25" font-weight="normal" font-style="normal" fill="#000">the</text>
<text transform="translate(129.4,694.6) scale(0.9073,1.0100) translate(-1.250,0)" x="0" y="0" font-family='"Liberation Serif", serif' font-size="25" font-weight="normal" font-style="normal" fill="#000">3</text>
<text transform="translate(167.6,694.6) scale(0.9171,1.0100) translate(-1.250,0)" x="0" y="0" font-family='"Liberation Serif", serif' font-size="25" font-weight="normal" font-style="normal" fill="#000">3</text>
<text transform="translate(186.6,694.6) scale(0.9665,1.0100) translate(-0.500,0)" x="0" y="0" font-family='"Liberation Serif", serif' font-size="25" font-weight="normal" font-style="normal" fill="#000">layer</text>
<text transform="translate(242.8,694.6) scale(0.9674,1.0100) translate(-0.250,0)" x="0" y="0" font-family='"Liberation Serif", serif' font-size="25" font-weight="normal" font-style="normal" fill="#000">has</text>
<text transform="translate(282.9,694.6) scale(0.9939,1.0100) translate(-0.750,0)" x="0" y="0" font-family='"Liberation Serif", serif' font-size="25" font-weight="normal" font-style="normal" fill="#000">four</text>
<text transform="translate(331.2,694.6) scale(0.9171,1.0100) translate(-1.250,0)" x="0" y="0" font-family='"Liberation Serif", serif' font-size="25" font-weight="normal" font-style="normal" fill="#000">3</text>
<text transform="translate(370.5,694.6) scale(0.9171,1.0100) translate(-1.250,0)" x="0" y="0" font-family='"Liberation Serif", serif' font-size="25" font-weight="normal" font-style="normal" fill="#000">3</text>
<text transform="translate(389.3,694.6) scale(1.0054,1.0100) translate(-0.500,0)" x="0" y="0" font-family='"Liberation Serif", serif' font-size="25" font-weight="normal" font-style="normal" fill="#000">matrices</text>
<text transform="translate(480.8,694.6) scale(0.9871,1.0100) translate(-1.000,0)" x="0" y="0" font-family='"Liberation Serif", serif' font-size="25" font-weight="normal" font-style="normal" fill="#000">and</text>
<text transform="translate(524.5,694.6) scale(0.8814,1.0100) translate(-0.250,0)" x="0" y="0" font-family='"Liberation Serif", serif' font-size="25" font-weight="normal" font-style="normal" fill="#000">the</text>
<text transform="translate(560.7,694.6) scale(0.9756,1.0100) translate(-0.500,0)" x="0" y="0" font-family='"Liberation Serif", serif' font-size="25" font-weight="normal" font-style="normal" fill="#000">kernel</text>
<text transform="translate(18.3,725.1) scale(1.0278,1.0100) translate(-1.000,0)" x="0" y="0" font-family='"Liberation Serif", serif' font-size="25" font-weight="normal" font-style="normal" fill="#000">of</text>
<text transform="translate(46.4,725.1) scale(0.9829,1.0100) translate(-2.250,0)" x="0" y="0" font-family='"Liberation Serif", serif' font-size="25" font-weight="normal" font-style="normal" fill="#000">1</text>
<text transform="translate(92,725.1) scale(0.8800,1.0100) translate(-2.250,0)" x="0" y="0" font-family='"Liberation Serif", serif' font-size="25" font-weight="normal" font-style="normal" fill="#000">1</text>
<text transform="translate(109.9,725.1) scale(0.9807,1.0100) translate(-0.500,0)" x="0" y="0" font-family='"Liberation Serif", serif' font-size="25" font-weight="normal" font-style="normal" fill="#000">layer</text>
<text transform="translate(166.8,725.1) scale(0.9705,1.0100) translate(-0.500,0)" x="0" y="0" font-family='"Liberation Serif", serif' font-size="25" font-weight="normal" font-style="normal" fill="#000">is</text>
<text transform="translate(190.5,725.1) scale(0.9641,1.0100) translate(-1.000,0)" x="0" y="0" font-family='"Liberation Serif", serif' font-size="25" font-weight="normal" font-style="normal" fill="#000">a</text>
<text transform="translate(208.5,725.1) scale(0.9300,1.0100) translate(-1.000,0)" x="0" y="0" font-family='"Liberation Serif", serif' font-size="25" font-weight="normal" font-style="normal" fill="#000">2</text>
<text transform="translate(252.2,725.1) scale(0.9300,1.0100) translate(-1.000,0)" x="0" y="0" font-family='"Liberation Serif", serif' font-size="25" font-weight="normal" font-style="normal" fill="#000">2</text>
<text transform="translate(270.5,725.1) scale(1.0253,1.0100) translate(-0.500,0)" x="0" y="0" font-family='"Liberation Serif", serif' font-size="25" font-weight="normal" font-style="normal" fill="#000">matrix.</text>
<text transform="translate(503.2,664.4) scale(1.2000,1.0000) translate(-1.500,0)" x="0" y="0" font-family='"Liberation Serif", serif' font-size="25" font-weight="normal" font-style="italic" fill="#000">C</text>
<text transform="translate(521,668) scale(1.1429,1.0000) translate(-0.750,0)" x="0" y="0" font-family='"Liberation Serif", serif' font-size="17.5" font-weight="normal" font-style="normal" fill="#000">2</text>
<text transform="translate(567.2,664.4) scale(1.2000,1.0000) translate(-1.500,0)" x="0" y="0" font-family='"Liberation Serif", serif' font-size="25" font-weight="normal" font-style="italic" fill="#000">C</text>
<text transform="translate(585.5,668) scale(1.1520,1.0000) translate(-1.500,0)" x="0" y="0" font-family='"Liberation Serif", serif' font-size="17.5" font-weight="normal" font-style="normal" fill="#000">1</text>
<line x1="540.6" y1="656" x2="556.8" y2="656" stroke="#000" stroke-width="1.3" stroke-linecap="butt"/>
<line x1="540.6" y1="660.6" x2="556.8" y2="660.6" stroke="#000" stroke-width="1.3" stroke-linecap="butt"/>
<line x1="604.4" y1="656" x2="620.8" y2="656" stroke="#000" stroke-width="1.3" stroke-linecap="butt"/>
<line x1="604.4" y1="660.6" x2="620.8" y2="660.6" stroke="#000" stroke-width="1.3" stroke-linecap="butt"/>
<line x1="148.5" y1="682.05" x2="159.4" y2="692.95" stroke="#000" stroke-width="1.25" stroke-linecap="butt"/>
<line x1="148.5" y1="692.95" x2="159.4" y2="682.05" stroke="#000" stroke-width="1.25" stroke-linecap="butt"/>
<line x1="350.4" y1="682.1" x2="361.2" y2="692.9" stroke="#000" stroke-width="1.25" stroke-linecap="butt"/>
<line x1="350.4" y1="692.9" x2="361.2" y2="682.1" stroke="#000" stroke-width="1.25" stroke-linecap="butt"/>
<line x1="67.9" y1="712.2" x2="79.5" y2="723.8" stroke="#000" stroke-width="1.25" stroke-linecap="butt"/>
<line x1="67.9" y1="723.8" x2="79.5" y2="712.2" stroke="#000" stroke-width="1.25" stroke-linecap="butt"/>
<line x1="229.9" y1="712.55" x2="240.8" y2="723.45" stroke="#000" stroke-width="1.25" stroke-linecap="butt"/>
<line x1="229.9" y1="723.45" x2="240.8" y2="712.55" stroke="#000" stroke-width="1.25" stroke-linecap="butt"/>
<g transform="translate(0,1)"><g fill="none" stroke="#fdfdfd" stroke-width="1.5" stroke-linecap="round" transform="translate(-0.7,-0.7)"><path d="M505.5,700.5 L507.5,703.5"/><path d="M505,704 L512.5,704"/><path d="M504,708.5 L513,708.5"/><path d="M508.7,701.5 L508.7,709 L504.5,716"/><path d="M509.5,710 L513,714.5"/><path d="M514.5,703 L521.5,703 L521.5,713.5 L514.5,713.5 Z"/><path d="M540.5,700 L527,702.5"/><path d="M527,704.5 L529,707.5"/><path d="M538.5,704 L536.5,707.5"/><path d="M523.8,709.3 L542,709.3"/><path d="M533,702.5 L533,716 L530,714.8"/><path d="M570,702.3 L579.5,702.3"/><path d="M574.7,699.3 L574.7,706"/><path d="M569.5,706 L580.5,706"/><path d="M572.5,708 L571.5,713 L570,716.5"/><path d="M577,708 L577,716.5 L575.5,715.5"/><path d="M570,710.5 L569,714"/><path d="M579.5,710 L581,713.5"/><path d="M582.5,700 L582.5,717.3"/><path d="M582.5,700.5 L587,700.5 L584.3,706.3 L587,710.5 L584.5,712.5"/><path d="M592.3,699 L591.2,701.3"/><path d="M589.2,701.8 L596.2,701.8 L596.2,715.5 L589.2,715.5 Z"/><path d="M589.2,708.5 L596.2,708.5"/><path d="M599.5,699.8 L598,703.8"/><path d="M598.5,703 L606,703"/><path d="M602.3,699 L602.3,707"/><path d="M597.3,707 L607,707"/><path d="M599.3,709.8 L605.3,709.8 L605.3,716 L599.3,716 Z"/><path d="M609.5,699.5 L608,702.5"/><path d="M609,701.2 L614.5,701.2"/><path d="M611,701.5 L612.5,703.3"/><path d="M617.5,699.5 L616,702.5"/><path d="M617,701.2 L623,701.2"/><path d="M619.5,701.5 L621,703.3"/><path d="M608.5,705 L623.5,705"/><path d="M610,705 L610,711.5 L607.5,717"/><path d="M613,707.3 L622,707.3"/><path d="M614,709.7 L621.5,709.7"/><path d="M613.5,712.2 L622.5,712.2"/><path d="M616,712.5 L616,716.3 L623.5,716.3"/><path d="M619,712.5 L619,715"/></g>
<g fill="none" stroke="#c6c6c6" stroke-width="1.45" stroke-linecap="round"><path d="M505.5,700.5 L507.5,703.5"/><path d="M505,704 L512.5,704"/><path d="M504,708.5 L513,708.5"/><path d="M508.7,701.5 L508.7,709 L504.5,716"/><path d="M509.5,710 L513,714.5"/><path d="M514.5,703 L521.5,703 L521.5,713.5 L514.5,713.5 Z"/><path d="M540.5,700 L527,702.5"/><path d="M527,704.5 L529,707.5"/><path d="M538.5,704 L536.5,707.5"/><path d="M523.8,709.3 L542,709.3"/><path d="M533,702.5 L533,716 L530,714.8"/><path d="M570,702.3 L579.5,702.3"/><path d="M574.7,699.3 L574.7,706"/><path d="M569.5,706 L580.5,706"/><path d="M572.5,708 L571.5,713 L570,716.5"/><path d="M577,708 L577,716.5 L575.5,715.5"/><path d="M570,710.5 L569,714"/><path d="M579.5,710 L581,713.5"/><path d="M582.5,700 L582.5,717.3"/><path d="M582.5,700.5 L587,700.5 L584.3,706.3 L587,710.5 L584.5,712.5"/><path d="M592.3,699 L591.2,701.3"/><path d="M589.2,701.8 L596.2,701.8 L596.2,715.5 L589.2,715.5 Z"/><path d="M589.2,708.5 L596.2,708.5"/><path d="M599.5,699.8 L598,703.8"/><path d="M598.5,703 L606,703"/><path d="M602.3,699 L602.3,707"/><path d="M597.3,707 L607,707"/><path d="M599.3,709.8 L605.3,709.8 L605.3,716 L599.3,716 Z"/><path d="M609.5,699.5 L608,702.5"/><path d="M609,701.2 L614.5,701.2"/><path d="M611,701.5 L612.5,703.3"/><path d="M617.5,699.5 L616,702.5"/><path d="M617,701.2 L623,701.2"/><path d="M619.5,701.5 L621,703.3"/><path d="M608.5,705 L623.5,705"/><path d="M610,705 L610,711.5 L607.5,717"/><path d="M613,707.3 L622,707.3"/><path d="M614,709.7 L621.5,709.7"/><path d="M613.5,712.2 L622.5,712.2"/><path d="M616,712.5 L616,716.3 L623.5,716.3"/><path d="M619,712.5 L619,715"/></g>
<circle cx="558.3" cy="708.5" r="7.3" fill="none" stroke="#c6c6c6" stroke-width="1.4" stroke-dasharray="40 6" transform="rotate(20 558.3 708.5)"/>
<circle cx="557.8" cy="708.3" r="3.1" fill="none" stroke="#c6c6c6" stroke-width="1.4"/>
<path d="M561,704.8 L561,711 Q561.5,713 563.5,712" fill="none" stroke="#c6c6c6" stroke-width="1.3"/></g>
</svg></body></html>
